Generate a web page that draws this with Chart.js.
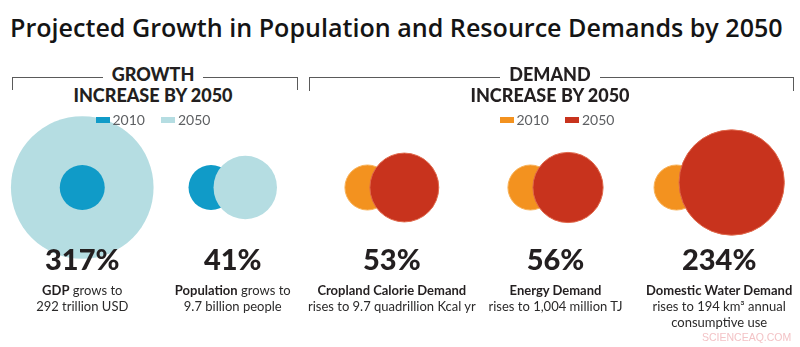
<!DOCTYPE html>
<html>
<head>
<meta charset="utf-8">
<script src="https://cdn.jsdelivr.net/npm/chart.js@4.4.1/dist/chart.umd.min.js"></script>
<style>
  html, body { margin: 0; padding: 0; background: #fff; }
  #page { position: relative; width: 800px; height: 347px; overflow: hidden;
          font-family: Lato, "Open Sans", sans-serif; color: #231f20; }
  .abs { position: absolute; }
  #title { font-family: "Open Sans", sans-serif; font-weight: 600; white-space: nowrap; color: #141414; left: 10px; }
  .bracket { border-top: 1px solid #5a5a5a; border-left: 1px solid #5a5a5a; border-right: 1px solid #5a5a5a; box-sizing: border-box; }
  .head { font-weight: 900; font-size: 18px; line-height: 21px; text-align: center; width: 260px; white-space: nowrap; }
  .head span { background: #fff; padding: 0 9px; }
  .legend { display: flex; align-items: center; height: 14px; font-size: 14px; line-height: 14px;
            font-weight: 400; color: #5d5f62; white-space: nowrap; }
  .sw { width: 14px; height: 6px; margin-right: 3px; }
  .gap { width: 16px; }
  .pct { font-weight: 900; font-size: 29px; line-height: 29px; text-align: center; width: 220px; white-space: nowrap; }
  .desc { font-size: 13px; line-height: 16px; text-align: center; width: 220px; white-space: nowrap; font-weight: 400; color: #2b2a2a; }
  .desc b { font-weight: 700; color: #231f20; }
  #mark { font-family: "Liberation Sans", Arial, sans-serif; font-size: 10.5px; line-height: 11px; color: #f3c3c6; left: 702px; top: 332px; }
  canvas { position: absolute; }
</style>
</head>
<body>
<div id="page">
  <div id="title" class="abs">Projected Growth in Population and Resource Demands by 2050</div>
</div>
<script>
// ---- data ----
const indicators   = ['GDP', 'Population', 'Cropland Calorie Demand', 'Energy Demand', 'Domestic Water Demand'];
const panelOf      = ['growth', 'growth', 'demand', 'demand', 'demand'];
const years        = ['2010', '2050'];
const level2010    = [1, 1, 1, 1, 1];               // 2010 level, indexed
const level2050    = [3.17, 1.41, 1.53, 1.56, 2.34]; // 2050 level relative to 2010
const increaseText = ['317%', '41%', '53%', '56%', '234%'];
const leadTail     = [' grows to', ' grows to', '', '', ''];
const detailLines  = [
  ['292 trillion USD'],
  ['9.7 billion people'],
  ['rises to 9.7 quadrillion Kcal yr'],
  ['rises to 1,004 million TJ'],
  ['rises to 194 km\u00b3 annual', 'consumptive use']
];
const panelTitles  = { growth: ['GROWTH', 'INCREASE BY 2050'], demand: ['DEMAND', 'INCREASE BY 2050'] };

// ---- layout & style ----
const PANELS = [
  { key: 'growth', left: 7,   width: 301, colors: ['#109bc8', '#b5dde2'], edges: ['rgba(0,0,0,0)', 'rgba(0,0,0,0)'],
    bracket: { left: 12, width: 286, height: 13 }, headCenter: 153, legendCenter: 153 },
  { key: 'demand', left: 310, width: 491, colors: ['#f3921f', '#c8331d'], edges: ['#f7b25a', '#e0694c'],
    bracket: { left: 309, width: 485, height: 14 }, headCenter: 550, legendCenter: 557 }
];
const CANVAS_TOP = 97, CANVAS_H = 181;
const BASE_R  = 22.5;  // radius of the 2010 circle, px
const OVERLAP = 20;    // how far the two circles of a pair overlap, px
const NESTED  = [true, false, false, false, false];
const LIFT    = [0, 0, 0, 0, 5];

const page = document.getElementById('page');
function el(tag, cls, css, html) {
  const e = document.createElement(tag);
  if (cls) e.className = cls;
  Object.assign(e.style, css || {});
  if (html !== undefined) e.innerHTML = html;
  page.appendChild(e);
  return e;
}

// title fitted to the page width
(function () {
  const t = document.getElementById('title');
  const ctx = document.createElement('canvas').getContext('2d');
  ctx.font = '600 100px "Open Sans"';
  const w = ctx.measureText(t.textContent).width;
  const F = 773 / w * 100;
  t.style.fontSize = F + 'px';
  t.style.lineHeight = F + 'px';
  t.style.top = (37.5 - 0.888 * F) + 'px';
})();

PANELS.forEach(panel => {
  const idx = indicators.map((_, i) => i).filter(i => panelOf[i] === panel.key);
  const n = idx.length;
  const ppu = panel.width / n;        // px per x unit
  const ppuY = CANVAS_H / 2;          // px per y unit

  // bracket and heading
  el('div', 'abs bracket', { left: panel.bracket.left + 'px', top: '77px',
     width: panel.bracket.width + 'px', height: panel.bracket.height + 'px' });
  el('div', 'abs head', { left: (panel.headCenter - 130) + 'px', top: '63.5px' },
     '<span>' + panelTitles[panel.key][0] + '</span><br>' + panelTitles[panel.key][1]);

  // circles
  const canvas = document.createElement('canvas');
  canvas.width = panel.width; canvas.height = CANVAS_H;
  Object.assign(canvas.style, { left: panel.left + 'px', top: CANVAS_TOP + 'px',
    width: panel.width + 'px', height: CANVAS_H + 'px' });
  page.appendChild(canvas);

  const datasets = idx.map((i, k) => {
    const r1 = BASE_R * level2010[i], r2 = BASE_R * level2050[i];
    let x1 = k, x2 = k;
    if (!NESTED[i]) {
      const d = r1 + r2 - OVERLAP;
      x1 = k - (d + r2 - r1) / 2 / ppu;
      x2 = x1 + d / ppu;
    }
    const p1 = { x: x1, y: 0, r: r1 };
    const p2 = { x: x2, y: LIFT[i] / ppuY, r: r2 };
    const pts = NESTED[i] ? [p2, p1] : [p1, p2];
    const yr = NESTED[i] ? [1, 0] : [0, 1];
    return {
      label: indicators[i],
      data: pts,
      backgroundColor: yr.map(j => panel.colors[j]),
      borderColor: yr.map(j => panel.edges[j]),
      borderWidth: 1,
      clip: false
    };
  });

  new Chart(canvas, {
    type: 'bubble',
    data: { datasets },
    options: {
      responsive: false, animation: false, events: [],
      layout: { padding: 0, autoPadding: false },
      plugins: { legend: { display: false }, tooltip: { enabled: false } },
      scales: {
        x: { type: 'linear', min: -0.5, max: n - 0.5, display: false },
        y: { type: 'linear', min: -1, max: 1, display: false }
      }
    }
  });

  // legend (drawn above the circles)
  const lg = el('div', 'abs legend', { top: '112.6px' });
  lg.innerHTML = years.map((y, j) =>
    '<div class="sw" style="background:' + panel.colors[j] + '"></div><div>' + y + '</div>' +
    (j < years.length - 1 ? '<div class="gap"></div>' : '')).join('');
  lg.style.left = (panel.legendCenter - lg.offsetWidth / 2) + 'px';

  // figures and descriptions
  idx.forEach((i, k) => {
    const cx = panel.left + (k + 0.5) * ppu;
    el('div', 'abs pct', { left: (cx - 110) + 'px', top: '244.3px' }, increaseText[i]);
    const lines = ['<b>' + indicators[i] + '</b>' + leadTail[i]].concat(detailLines[i]);
    el('div', 'abs desc', { left: (cx - 110) + 'px', top: '282px' }, lines.join('<br>'));
  });
});

el('div', 'abs', {}, '').id = 'mark';
document.getElementById('mark').textContent = 'SCIENCEAQ.COM';
</script>
</body>
</html>
